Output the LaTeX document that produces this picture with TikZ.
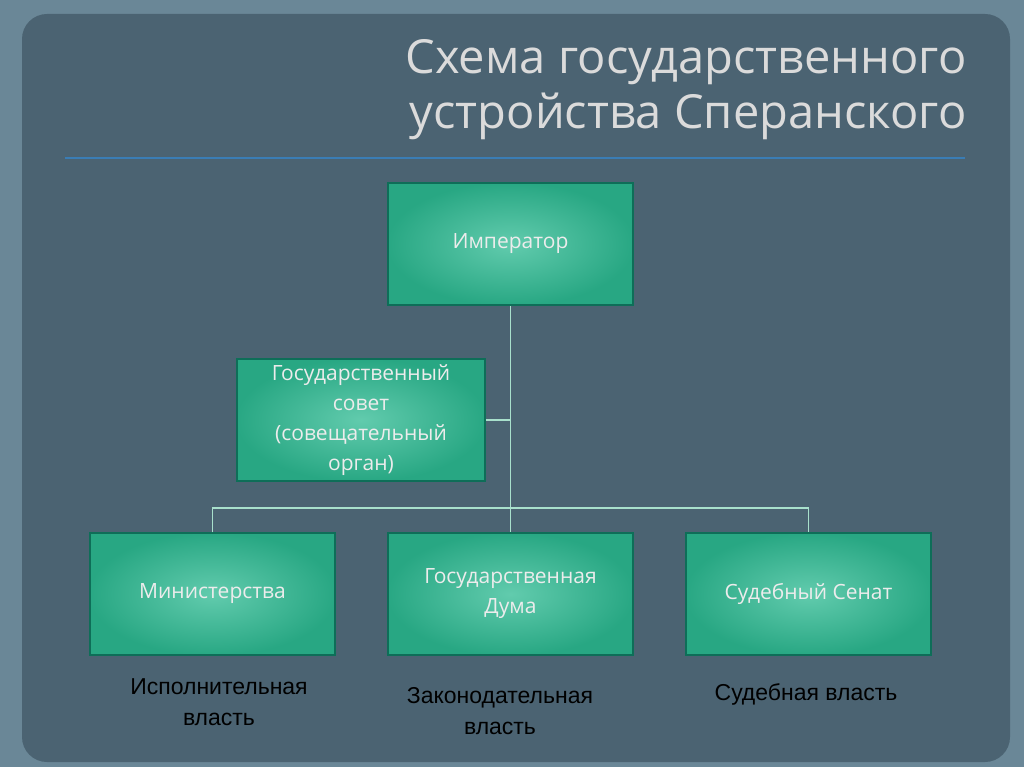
\documentclass[tikz,border=0pt]{standalone}
\usepackage{fontspec}
\setmainfont{Liberation Sans}
\newfontfamily\titlefont{Open Sans}
\usetikzlibrary{positioning}
\definecolor{outerbg}{HTML}{6A8797}
\definecolor{innerbg}{HTML}{4B6372}
\definecolor{boxfill}{HTML}{2DBA92}
\definecolor{boxedge}{HTML}{0E6E58}
\definecolor{linkc}{HTML}{A8E0CC}
\definecolor{rulec}{HTML}{3A7DB5}
\tikzset{
  organ/.style={draw=boxedge, line width=1.5pt, inner color=boxfill!75!white, outer color=boxfill!90!black,
    minimum width=245pt, minimum height=122pt, align=center, text=white!85!gray,
    font=\titlefont\fontsize{21}{30}\selectfont},
  link/.style={draw=linkc, line width=1.2pt},
  power/.style={align=center, font=\fontsize{23}{31}\selectfont}
}
\begin{document}
\begin{tikzpicture}[x=1pt,y=-1pt]
  \useasboundingbox (0,0) rectangle (1024,767);
  % Background
  \fill[outerbg] (0,0) rectangle (1024,767);
  \fill[innerbg, rounded corners=25pt] (22,14) rectangle (1010,762);

  % Title
  \node[anchor=north east, align=right, text=white!72!gray, font=\titlefont\fontsize{47}{55}\selectfont]
    (title) at (970,36) {Схема государственного\\устройства Сперанского};
  \draw[rulec, line width=1.2pt] (65,158) -- (965,158);

  % Boxes
  \node[organ] (emp) at (510.5,244) {Император};
  \node[organ, minimum width=248pt] (council) at (361,420) {Государственный\\совет\\(совещательный\\орган)};
  \node[organ] (min) at (212.5,594) {Министерства};
  \node[organ] (duma) at (510.5,594) {Государственная\\Дума};
  \node[organ] (senate) at (808.5,594) {Судебный Сенат};

  % Links
  \coordinate (fork) at (510.5,508);
  \draw[link] (emp.south) -- (fork);
  \draw[link] (council.east) -- (council.east -| emp.south);
  \draw[link] (fork) -- (duma.north);
  \draw[link] (min.north) |- (fork) -| (senate.north);

  % Branches of power
  \node[power] (exec) at (219,702) {Исполнительная\\власть};
  \node[power] (legis) at (500,711) {Законодательная\\власть};
  \node[power] (judic) at (806,694) {Судебная власть};
\end{tikzpicture}
\end{document}
